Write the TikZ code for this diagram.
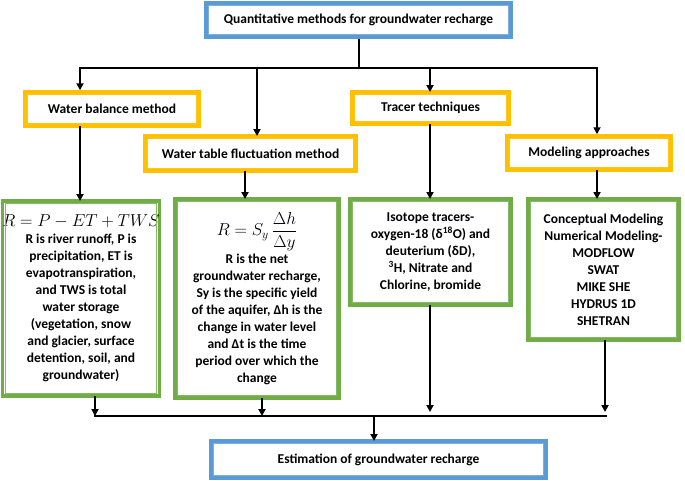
\documentclass[tikz,border=0pt]{standalone}
\usepackage{fontspec}
\setmainfont{Carlito}
\usetikzlibrary{arrows.meta}
\definecolor{cblue}{HTML}{5B9BD5}
\definecolor{corange}{HTML}{FFC000}
\definecolor{cgreen}{HTML}{70AD47}
\begin{document}
\begin{tikzpicture}[x=1pt,y=-1pt,
  box/.style={rectangle,line width=3.5pt,fill=white,align=center,inner sep=0pt,
    font=\fontsize{13.5}{17}\selectfont\bfseries},
  bb/.style={box,draw=cblue}, ob/.style={box,draw=corange}, gb/.style={box,draw=cgreen},
  inl/.style={line width=1pt},
  arr/.style={line width=2pt,-{Triangle[length=7pt,width=7pt]}},
  ln/.style={line width=2pt}]
\useasboundingbox (0,0) rectangle (685,480);
\newcommand\mybox[7]{% name style x1 y1 x2 y2 text
  \node[#2,minimum width=#5-#3,minimum height=#6-#4] (#1) at ({(#3+#5)/2},{(#4+#6)/2}) {#7};}
\newcommand\myinner[2]{\draw[inl,#2] ([shift={(4.5pt,-4.5pt)}]#1.north west) rectangle ([shift={(-4.5pt,4.5pt)}]#1.south east);}
\mybox{top}{bb}{206}{3}{511}{37}{Quantitative methods for groundwater recharge}
\mybox{wb}{ob}{25}{92}{199}{126}{Water balance method}
\mybox{tr}{ob}{352}{92}{509}{124}{Tracer techniques}
\mybox{wt}{ob}{145}{136}{356}{171}{Water table fluctuation method}
\mybox{mo}{ob}{507}{136}{671}{170}{Modeling approaches}
\mybox{g1}{gb}{3}{201}{159}{396}{{\fontsize{17}{17}\selectfont$R=P-ET+TWS$}\\R is river runoff, P is\\precipitation, ET is\\evapotranspiration,\\and TWS is total\\water storage\\(vegetation, snow\\and glacier, surface\\detention, soil, and\\groundwater)}
\mybox{g2}{gb}{175}{199}{339}{398}{{\fontsize{17}{17}\selectfont$R=S_y\,\displaystyle\frac{\Delta h}{\Delta y}$}\\[2pt]R is the net\\groundwater recharge,\\Sy is the specific yield\\of the aquifer, Δh is the\\change in water level\\and Δt is the time\\period over which the\\change}
\mybox{g3}{gb}{350}{199}{511}{305}{Isotope tracers-\\oxygen-18 (δ\textsuperscript{18}O) and\\deuterium (δD),\\\textsuperscript{3}H, Nitrate and\\Chlorine, bromide}
\mybox{g4}{gb}{528}{199}{679}{340}{Conceptual Modeling\\Numerical Modeling-\\MODFLOW\\SWAT\\MIKE SHE\\HYDRUS 1D\\SHETRAN}
\mybox{bot}{bb}{211}{441}{546}{478}{Estimation of groundwater recharge}
\myinner{top}{cblue!80}\myinner{bot}{cblue!80}
\myinner{wb}{corange!90}\myinner{tr}{corange!90}\myinner{wt}{corange!90}\myinner{mo}{corange!90}
\myinner{g1}{cgreen!85}\myinner{g2}{cgreen!85}\myinner{g3}{cgreen!85}\myinner{g4}{cgreen!85}
% top connectors
\coordinate (h1) at (80,68); \coordinate (h2) at (597,68);
\draw[ln] (top.south) -- (top.south|-h1);
\draw[ln] ([xshift=-1pt]h1) -- ([xshift=1pt]h2);
\draw[arr] (h1) -- (h1|-wb.north);
\draw[arr] (h2) -- (h2|-mo.north);
\draw[arr] (257,68) -- (257,136);
\draw[arr] (430,68) -- (430,92);
\draw[arr] (80,126) -- (80,201);
\draw[arr] (245,171) -- (245,199);
\draw[arr] (430,124) -- (430,199);
\draw[arr] (597,170) -- (597,199);
% bottom connectors
\coordinate (b1) at (95,416); \coordinate (b2) at (606,416);
\draw[ln] ([xshift=-1pt]b1) -- ([xshift=1pt]b2);
\draw[arr] (95,396) -- (b1);
\draw[arr] (262,398) -- (262,416);
\draw[arr] (430,305) -- (430,412);
\draw[arr] (605,340) -- (605,412);
\draw[arr] (374,416) -- (374,441);
\end{tikzpicture}
\end{document}
